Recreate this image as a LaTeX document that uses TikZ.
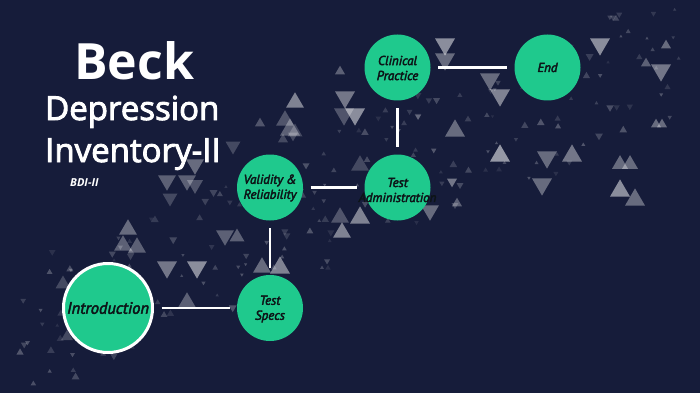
\documentclass[tikz,border=0pt]{standalone}
\usepackage{fontspec}
\setmainfont{Open Sans}
\newfontfamily\titlefont{Open Sans}
\newfontfamily\nodefont{PT Sans}
\definecolor{bgc}{RGB}{22,28,58}
\definecolor{bubc}{RGB}{31,201,141}
\definecolor{inkc}{RGB}{12,20,24}
\newcommand{\thick}[3]{\special{pdf:code 2 Tr #1 w #2 RG}#3\special{pdf:code 0 Tr}}
\newcommand{\tu}[4]{\fill[white,opacity=#4] ({#1-#3/2},{#2+#3*0.43}) -- ({#1+#3/2},{#2+#3*0.43}) -- ({#1},{#2-#3*0.43}) -- cycle;}
\newcommand{\td}[4]{\fill[white,opacity=#4] ({#1-#3/2},{#2-#3*0.43}) -- ({#1+#3/2},{#2-#3*0.43}) -- ({#1},{#2+#3*0.43}) -- cycle;}
\tikzset{
  bubble/.style={circle,fill=bubc,minimum size=66pt,inner sep=0pt,outer sep=0pt},
  bubtext/.style={font=\nodefont\itshape\fontsize{13}{15}\selectfont,text=inkc,align=center,inner sep=0pt},
  link/.style={draw=white,line width=2.5pt,shorten <=7.5pt,shorten >=7.5pt},
  title/.style={text=white,anchor=base west,inner sep=0pt}
}
\begin{document}
\begin{tikzpicture}[x=1pt,y=-1pt]
\fill[bgc] (0,0) rectangle (700,393);
\useasboundingbox (0,0) rectangle (700,393);
\begin{scope}
\clip (0,0) rectangle (700,393);
% scattered small triangles
\pgfmathsetseed{7}
\foreach \i in {1,...,200}{
  \pgfmathsetmacro\xx{20+660*rnd}
  \pgfmathsetmacro\yy{335-0.43*(\xx-20)+70*rand}
  \pgfmathsetmacro\ww{3+5*rnd}
  \pgfmathsetmacro\oo{0.08+0.18*rnd}
  \pgfmathsetmacro\dd{rnd}
  \ifdim\dd pt<0.5pt \tu{\xx}{\yy}{\ww}{\oo}\else\td{\xx}{\yy}{\ww}{\oo}\fi
}
% larger triangles
\td{445}{47}{20}{.5}
\td{445}{62}{20}{.35}
\td{600}{47}{20}{.5}
\td{490}{82}{20}{.35}
\td{500}{98}{20}{.45}
\tu{666}{44}{10}{.35}
\td{661}{73}{20}{.4}
\tu{646}{62}{10}{.3}
\tu{455}{128}{20}{.35}
\tu{500}{153}{20}{.55}
\td{547}{160}{20}{.35}
\tu{572}{153}{20}{.4}
\td{542}{187}{20}{.35}
\tu{620}{162}{16}{.35}
\tu{630}{162}{16}{.35}
\tu{620}{188}{20}{.5}
\tu{635}{197}{20}{.35}
\tu{656}{123}{10}{.35}
\tu{662}{123}{10}{.35}
\tu{295}{100}{18}{.45}
\td{345}{100}{20}{.4}
\td{355}{117}{20}{.5}
\td{344}{117}{20}{.25}
\tu{290}{127}{20}{.3}
\tu{285}{118}{18}{.25}
\tu{295}{130}{15}{.2}
\tu{340}{70}{10}{.3}
\tu{260}{122}{10}{.25}
\tu{360}{163}{18}{.2}
\tu{360}{215}{20}{.45}
\tu{342}{230}{18}{.45}
\tu{340}{215}{18}{.25}
\td{452}{183}{10}{.4}
\td{430}{213}{18}{.35}
\tu{457}{202}{10}{.3}
\td{167}{183}{18}{.3}
\td{187}{183}{18}{.3}
\td{195}{167}{18}{.35}
\td{195}{187}{16}{.25}
\tu{128}{227}{18}{.35}
\tu{123}{243}{18}{.3}
\tu{137}{245}{18}{.3}
\td{167}{270}{20}{.4}
\td{197}{270}{20}{.5}
\tu{187}{300}{18}{.3}
\td{225}{238}{18}{.3}
\tu{237}{235}{15}{.3}
\tu{262}{265}{18}{.35}
\tu{280}{265}{20}{.45}
\td{170}{200}{15}{.2}
\tu{283}{138}{10}{.2}
\td{293}{137}{10}{.2}
\td{233}{148}{15}{.2}
\tu{63}{282}{15}{.2}
\tu{67}{335}{12}{.2}
\end{scope}
% title
\node[title,font=\bfseries\fontsize{50}{56}\selectfont] (beck) at (74,80) {Beck};
\node[title,font=\titlefont\fontsize{33}{38}\selectfont] (dep) at (45,120) {\thick{0.9}{1 1 1}{Depression}};
\node[title,font=\titlefont\fontsize{33}{38}\selectfont] (inv) at (45,162) {\thick{0.9}{1 1 1}{Inventory-II}};
\node[title,font=\bfseries\itshape\fontsize{11}{13}\selectfont] (bdi) at (70,186) {BDI-II};
% bubbles
\node[bubble,minimum size=89pt,draw=white,line width=3pt,outer sep=1.5pt] (intro) at (108,308) {};
\node[bubble] (specs) at (270,308) {};
\node[bubble] (valid) at (270,187.5) {};
\node[bubble] (admin) at (397.5,187.5) {};
\node[bubble] (clin) at (397.5,67.5) {};
\node[bubble] (endn) at (547.5,67.5) {};
% texts
\node[bubtext,font=\nodefont\itshape\fontsize{16.5}{19}\selectfont] (intro-t) at (intro) {\thick{0.45}{0.05 0.08 0.09}{Introduction}};
\node[bubtext] (specs-t) at (270,309) {\thick{0.4}{0.05 0.08 0.09}{Test}\\\thick{0.4}{0.05 0.08 0.09}{Specs}};
\node[bubtext] (valid-t) at (270,188) {\thick{0.4}{0.05 0.08 0.09}{Validity \&}\\\thick{0.4}{0.05 0.08 0.09}{Reliability}};
\node[bubtext] (admin-t) at (397.5,190) {\thick{0.4}{0.05 0.08 0.09}{Test}\\\thick{0.4}{0.05 0.08 0.09}{Administration}};
\node[bubtext] (clin-t) at (397.5,68) {\thick{0.4}{0.05 0.08 0.09}{Clinical}\\\thick{0.4}{0.05 0.08 0.09}{Practice}};
\node[bubtext] (endn-t) at (547.5,67.5) {\thick{0.4}{0.05 0.08 0.09}{End}};
% links
\draw[link] (intro) -- (specs);
\draw[link] (specs) -- (valid);
\draw[link] (valid) -- (admin);
\draw[link] (admin) -- (clin);
\draw[link] (clin) -- (endn);
\end{tikzpicture}
\end{document}
